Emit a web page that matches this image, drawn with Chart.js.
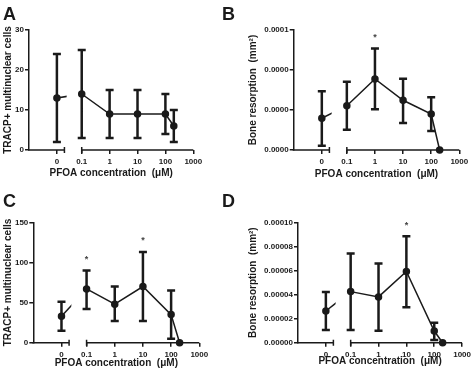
<!DOCTYPE html>
<html>
<head>
<meta charset="utf-8">
<script src="https://cdn.jsdelivr.net/npm/chart.js@4"></script>
<style>
  html, body { margin: 0; padding: 0; background: #fff; }
  #figure { position: relative; width: 474px; height: 372px; overflow: hidden; }
  #figure canvas { position: absolute; }
  .tag { position: absolute; font: bold 18px 'Liberation Sans', Arial, sans-serif; line-height: 18px; color: #1a1a1a; }
</style>
</head>
<body>
<div id="figure">
  <canvas id="chartA" width="237" height="186" style="left:0;top:0"></canvas>
  <canvas id="chartB" width="237" height="186" style="left:237px;top:0"></canvas>
  <canvas id="chartC" width="237" height="186" style="left:0;top:186px"></canvas>
  <canvas id="chartD" width="237" height="186" style="left:237px;top:186px"></canvas>
  <div class="tag" style="left:3px;top:5px">A</div>
  <div class="tag" style="left:222px;top:5px">B</div>
  <div class="tag" style="left:3px;top:192px">C</div>
  <div class="tag" style="left:222px;top:192px">D</div>
</div>
<script>
// ---- data ----
// x axis is shared: "0" gets its own short segment, the rest is log10
const xValues = [0, 0.1, 1, 10, 100, 200];
const xTickValues = [0, 0.1, 1, 10, 100, 1000];
const xTickLabels = ['0', '0.1', '1', '10', '100', '1000'];

// A - TRACP+ cells
const meanA = [13, 14, 9, 9, 9, 6];
const lowA = [2, 3, 3, 3, 4, 2];
const highA = [24, 25, 15, 15, 14, 10];
const starsA = [];
const yTicksA = [0, 10, 20, 30];
const yLabelsA = ['0', '10', '20', '30'];

// B - bone resorption
const meanB = [0.0000238, 0.0000332, 0.0000533, 0.0000373, 0.000027, 0];
const lowB = [0.0000032, 0.0000152, 0.0000305, 0.0000203, 0.0000142, null];
const highB = [0.0000441, 0.0000512, 0.0000762, 0.0000535, 0.0000396, null];
const starsB = [1];
const yTicksB = [0, 0.00003, 0.00006, 0.00009];
const yLabelsB = ['0.0000', '0.0000', '0.0000', '0.0001'];

// C - TRACP+ cells
const meanC = [33, 67, 48, 70, 35, 0];
const lowC = [15, 42, 27, 27, 5, null];
const highC = [51, 90, 70, 113, 65, null];
const starsC = [0.1, 10];
const yTicksC = [0, 50, 100, 150];
const yLabelsC = ['0', '50', '100', '150'];

// D - bone resorption
const meanD = [0.0000264, 0.0000425, 0.0000381, 0.0000592, 0.0000097, 0];
const lowD = [0.0000106, 0.0000106, 0.00001, 0.0000294, 0.0000022, null];
const highD = [0.0000422, 0.0000742, 0.0000658, 0.0000886, 0.0000167, null];
const starsD = [10];
const yTicksD = [0, 0.00002, 0.00004, 0.00006, 0.00008, 0.0001];
const yLabelsD = ['0.00000', '0.00002', '0.00004', '0.00006', '0.00008', '0.00010'];

const cellsTitle = 'TRACP+ multinuclear cells';
const boneTitle = 'Bone resorption  (mm\u00B2)';
const xTitle = 'PFOA concentration  (\u03BCM)';

// ---- axis layout (in decades) ----
const ZERO_AT = -1.89;   // where "0" sits
const BREAK_AT = -1.62;  // end of first axis segment
const STUB_TO = -1.54;   // line leaving the 0 point is cut here
const X_MIN = -2.89;
const X_MAX = 3;
const INK = '#1a1a1a';

const toAxis = (v) => (v === 0 ? ZERO_AT : Math.log10(v));

Chart.defaults.font.family = "'Liberation Sans', Arial, sans-serif";
Chart.defaults.font.weight = 'bold';
Chart.defaults.font.size = 8;
Chart.defaults.color = INK;

const extras = {
  id: 'extras',
  beforeDatasetsDraw(chart) {
    const o = chart.options.plugins.extras;
    const { ctx, chartArea } = chart;
    const xs = chart.scales.x, ys = chart.scales.y;
    const y0 = ys.getPixelForValue(0);
    ctx.save();
    ctx.strokeStyle = INK;
    ctx.lineWidth = 1.5;
    // broken x axis
    const b = xs.getPixelForValue(BREAK_AT);
    const s = xs.getPixelForValue(-1);
    ctx.beginPath();
    ctx.moveTo(chartArea.left - 1, y0); ctx.lineTo(b, y0);
    ctx.moveTo(b, y0 - 3); ctx.lineTo(b, y0 + 3);
    ctx.moveTo(s, y0); ctx.lineTo(chartArea.right, y0);
    ctx.moveTo(s, y0 - 3); ctx.lineTo(s, y0 + 3);
    ctx.stroke();
    // error bars
    ctx.lineWidth = 2.5;
    ctx.beginPath();
    xValues.forEach((v, i) => {
      if (o.low[i] == null) return;
      const x = xs.getPixelForValue(toAxis(v));
      const yl = ys.getPixelForValue(o.low[i]);
      const yh = ys.getPixelForValue(o.high[i]);
      ctx.moveTo(x, yl); ctx.lineTo(x, yh);
      ctx.moveTo(x - 4, yl); ctx.lineTo(x + 4, yl);
      ctx.moveTo(x - 4, yh); ctx.lineTo(x + 4, yh);
    });
    ctx.stroke();
    ctx.restore();
  },
  beforeDatasetDraw(chart, args) {
    if (args.index !== 1) return;
    const { ctx } = chart;
    ctx.save();
    ctx.beginPath();
    ctx.rect(0, 0, chart.scales.x.getPixelForValue(STUB_TO), chart.height);
    ctx.clip();
  },
  afterDatasetDraw(chart, args) {
    if (args.index === 1) chart.ctx.restore();
  },
  afterDatasetsDraw(chart) {
    const o = chart.options.plugins.extras;
    const { ctx } = chart;
    ctx.save();
    ctx.fillStyle = '#444';
    ctx.font = "bold 9px 'Liberation Sans', Arial, sans-serif";
    ctx.textAlign = 'center';
    ctx.textBaseline = 'middle';
    o.stars.forEach((v) => {
      const i = xValues.indexOf(v);
      ctx.fillText('*', chart.scales.x.getPixelForValue(toAxis(v)), chart.scales.y.getPixelForValue(o.high[i]) - 11);
    });
    ctx.restore();
  }
};

function makePanel(id, d, g) {
  const line = { borderColor: INK, backgroundColor: INK, borderWidth: 1.5, pointRadius: 3, pointHoverRadius: 3, clip: false };
  new Chart(document.getElementById(id), {
    type: 'scatter',
    data: {
      datasets: [
        { ...line, data: [{ x: ZERO_AT, y: d.mean[0] }] },
        { ...line, showLine: true, pointRadius: 0, data: [{ x: ZERO_AT, y: d.mean[0] }, { x: toAxis(xValues[1]), y: d.mean[1] }] },
        { ...line, showLine: true, data: xValues.slice(1).map((v, i) => ({ x: toAxis(v), y: d.mean[i + 1] })) },
      ],
    },
    options: {
      responsive: false,
      animation: false,
      events: [],
      layout: { padding: { left: g.padL, right: g.padR, top: g.padT, bottom: 0 } },
      plugins: {
        legend: { display: false },
        tooltip: { enabled: false },
        extras: { low: d.low, high: d.high, stars: d.stars },
      },
      scales: {
        x: {
          type: 'linear',
          min: X_MIN,
          max: X_MAX,
          afterBuildTicks: (s) => { s.ticks = xTickValues.map((v) => ({ value: toAxis(v) })); },
          afterFit: (s) => { s.height = g.xH; },
          ticks: { autoSkip: false, maxRotation: 0, padding: 3, callback: (v, i) => xTickLabels[i] },
          grid: { drawOnChartArea: false, tickLength: 4, color: INK, lineWidth: 1.5 },
          border: { display: false },
          title: { display: true, text: xTitle, font: { size: 10, weight: 'bold' }, padding: { top: 0, bottom: g.tb } },
        },
        y: {
          min: 0,
          max: d.yTicks[d.yTicks.length - 1],
          afterBuildTicks: (s) => { s.ticks = d.yTicks.map((v) => ({ value: v })); },
          afterFit: (s) => { s.width = g.yW; },
          ticks: { padding: 1, callback: (v, i) => d.yLabels[i] },
          grid: { drawOnChartArea: false, tickLength: 4, color: INK, lineWidth: 1.5 },
          border: { display: true, color: INK, width: 1.5 },
          title: { display: true, text: d.title, font: { size: 10, weight: 'bold' }, padding: { top: 0, bottom: 0 } },
        },
      },
    },
    plugins: [extras],
  });
}

makePanel('chartA', { mean: meanA, low: lowA, high: highA, stars: starsA, yTicks: yTicksA, yLabels: yLabelsA, title: cellsTitle },
  { padL: 2, yW: 27, padR: 43.7, padT: 30, xH: 36, tb: 6.7 });
makePanel('chartB', { mean: meanB, low: lowB, high: highB, stars: starsB, yTicks: yTicksB, yLabels: yLabelsB, title: boneTitle },
  { padL: 10.7, yW: 46, padR: 14.7, padT: 30, xH: 36, tb: 6 });
makePanel('chartC', { mean: meanC, low: lowC, high: highC, stars: starsC, yTicks: yTicksC, yLabels: yLabelsC, title: cellsTitle },
  { padL: 2, yW: 31.3, padR: 37.7, padT: 36.3, xH: 29.3, tb: 2.5 });
makePanel('chartD', { mean: meanD, low: lowD, high: highD, stars: starsD, yTicks: yTicksD, yLabels: yLabelsD, title: boneTitle },
  { padL: 10.7, yW: 50.3, padR: 11.3, padT: 36.5, xH: 29.3, tb: 5 });
</script>
</body>
</html>
